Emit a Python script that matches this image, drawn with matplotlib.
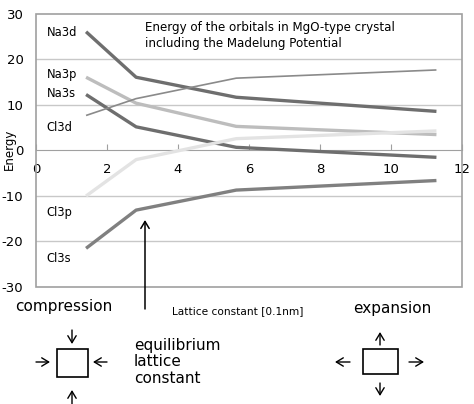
import matplotlib
matplotlib.use("Agg")
from matplotlib import pyplot as plt
from matplotlib.patches import Rectangle

# lattice constant [0.1nm]
lattice = [1.41, 2.82, 5.64, 11.28]

# orbital energies
na3d = [26.1, 16.1, 11.7, 8.6]
na3p = [16.1, 10.4, 5.3, 3.5]
na3s = [12.3, 5.2, 0.7, -1.5]
cl3d = [7.7, 11.4, 15.9, 17.7]
cl3p = [-10.0, -2.0, 2.6, 4.3]
cl3s = [-21.5, -13.1, -8.7, -6.6]

series_names = ["Na3d", "Na3p", "Na3s", "Cl3d", "Cl3p", "Cl3s"]
label_y = [26.0, 16.8, 12.6, 5.0, -13.6, -23.7]

xticks = [0, 2, 4, 6, 8, 10, 12]
yticks = [-30, -20, -10, 0, 10, 20, 30]

plt.rcParams['font.family'] = ['DejaVu Sans']

fig = plt.figure(figsize=(4.74, 4.04), dpi=100)
ax = fig.add_axes([36/474, 1-287/404, 426/474, 273/404])

styles = [
    ("#6e6e6e", 2.4),
    ("#bdbdbd", 2.4),
    ("#6e6e6e", 2.4),
    ("#8a8a8a", 1.2),
    ("#e3e3e3", 2.4),
    ("#808080", 2.4),
]
for vals, (c, lw) in zip([na3d, na3p, na3s, cl3d, cl3p, cl3s], styles):
    ax.plot(lattice, vals, color=c, lw=lw, solid_capstyle='butt', zorder=3)

ax.set_xlim(0, 12)
ax.set_ylim(-30, 30)

# grid lines
for y in [-20, -10, 10, 20]:
    ax.axhline(y, color="#c8c8c8", lw=1.0, zorder=1)

# frame + x axis through zero
for s in ['top', 'right', 'left']:
    ax.spines[s].set_visible(False)
ax.spines['bottom'].set_position(('data', 0))
ax.spines['bottom'].set_color("#a0a0a0")
ax.add_patch(Rectangle((0, 0), 1, 1, transform=ax.transAxes, fill=False,
                       ec="#a0a0a0", lw=1.2, zorder=4, clip_on=False))

ax.set_xticks(xticks)
ax.set_xticklabels([str(t) for t in xticks])
ax.set_yticks(yticks)
ax.set_yticklabels([str(t) for t in yticks])
ax.tick_params(axis='x', direction='in', length=4, color="#a0a0a0", pad=9, labelsize=9.5)
ax.tick_params(axis='y', length=0, pad=9, labelsize=9.5)

ax.text(-0.062, 0.505, "Energy", transform=ax.transAxes, rotation=90,
        ha='center', va='center', fontsize=8.5)

ax.text(145/474, 1-35.5/404, "Energy of the orbitals in MgO-type crystal\nincluding the Madelung Potential",
        transform=fig.transFigure, ha='left', va='center', fontsize=8.6, linespacing=1.35)

for name, y in zip(series_names, label_y):
    ax.text(0.3, y, name, ha='left', va='center', fontsize=8.3)

# texts below the chart
fig.text(15/474, 1-307/404, "compression", ha='left', va='center', fontsize=11)
fig.text(172/474, 1-311/404, "Lattice constant [0.1nm]", ha='left', va='center', fontsize=7.6)
fig.text(353/474, 1-309/404, "expansion", ha='left', va='center', fontsize=11)
fig.text(134/474, 1-362/404, "equilibrium\nlattice\nconstant", ha='left', va='center',
         fontsize=11, linespacing=1.15)

def arrow(x0, y0, x1, y1, lw=1.0):
    # top-down pixel coordinates
    fig.add_artist(matplotlib.patches.FancyArrowPatch(
        (x0/474, 1-y0/404), (x1/474, 1-y1/404), transform=fig.transFigure,
        arrowstyle='->,head_length=5,head_width=3', color='black', lw=lw,
        shrinkA=0, shrinkB=0))

# equilibrium arrow
arrow(145, 309, 145, 220, lw=1.1)

# compression box
fig.add_artist(Rectangle((57/474, 1-377/404), 31/474, 28/404, transform=fig.transFigure,
                         fill=False, ec='black', lw=1.2))
arrow(72, 330, 72, 344)
arrow(72, 404, 72, 390)
arrow(36, 362, 50, 362)
arrow(107, 362, 93, 362)

# expansion box
fig.add_artist(Rectangle((363/474, 1-374/404), 35/474, 25/404, transform=fig.transFigure,
                         fill=False, ec='black', lw=1.2))
arrow(380, 345, 380, 332)
arrow(380, 383, 380, 396)
arrow(350, 362, 335, 362)
arrow(409, 362, 424, 362)

fig.savefig("out.png", dpi=100)
